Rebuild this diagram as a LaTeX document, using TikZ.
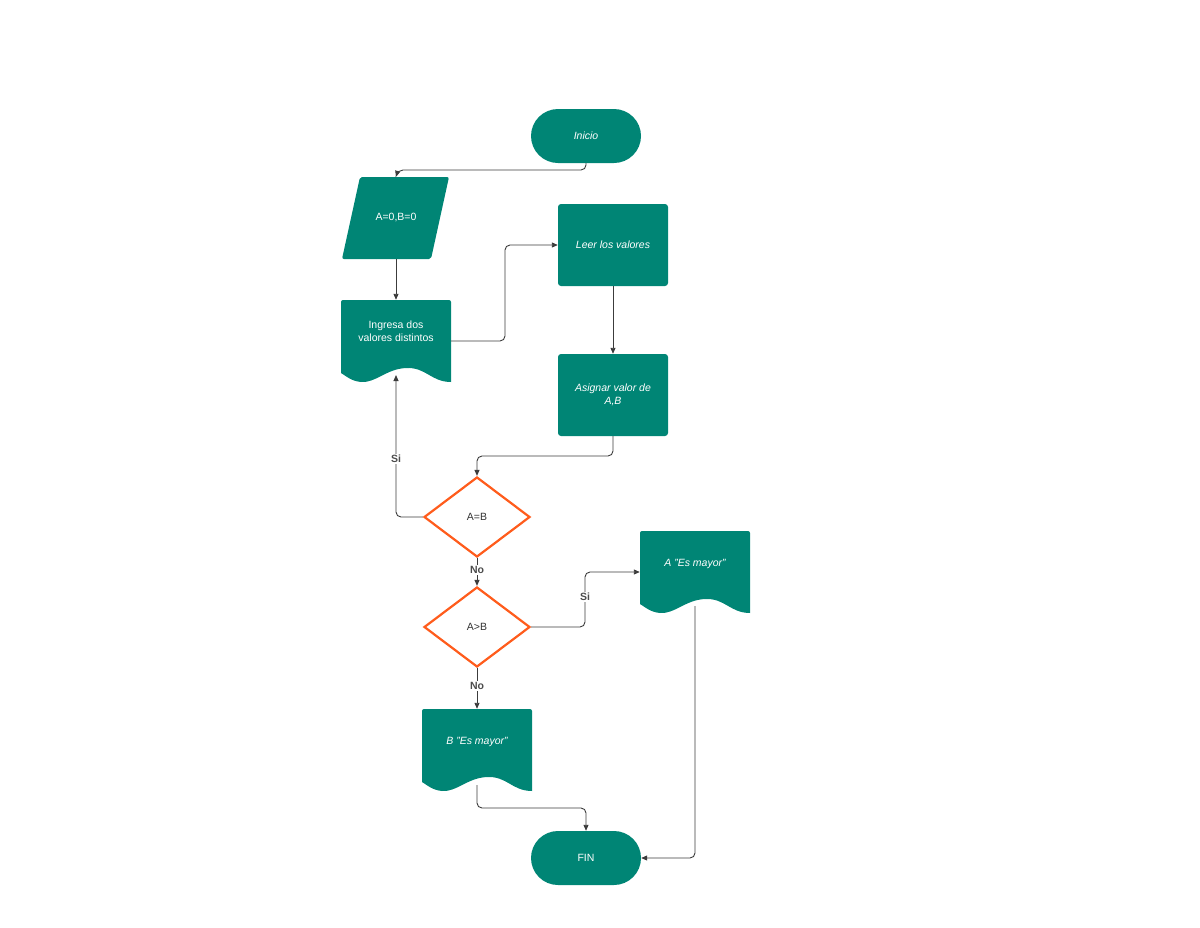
\documentclass[tikz,border=0pt]{standalone}
\usepackage{fontspec}
\setmainfont{Liberation Sans}
\usetikzlibrary{shapes.geometric,shapes.misc,arrows.meta}
\definecolor{teal1}{RGB}{0,133,117}
\definecolor{orng}{RGB}{255,92,28}
\definecolor{lin}{RGB}{60,60,60}
\tikzset{
 txt/.style={text=white,font=\fontsize{10.5}{13}\selectfont,align=center},
 term/.style={txt,fill=teal1,rounded rectangle,minimum width=110pt,minimum height=54pt,inner sep=0pt},
 proc/.style={txt,fill=teal1,rounded corners=3pt,minimum width=110pt,minimum height=82pt,inner sep=0pt},
 paranode/.style={txt,minimum width=107pt,minimum height=82pt,inner sep=0pt},
 dec/.style={diamond,draw=orng,line width=2.2pt,fill=white,minimum width=106pt,minimum height=80pt,inner sep=0pt,aspect=1.32,font=\fontsize{10.5}{13}\selectfont,text=black!80},
 docbox/.style={txt,minimum width=110pt,minimum height=82pt,inner sep=0pt},
 conn/.style={draw=lin,line width=0.9pt,rounded corners=5pt,-{Triangle[length=6pt,width=5pt]}},
 lab/.style={fill=white,inner sep=1pt,font=\fontsize{10.5}{13}\selectfont\bfseries,text=black!70}
}
\newcommand{\docfill}[2]{%
 \begin{scope}[shift={(#1,#2)}]
 \fill[teal1] (-55,32) [rounded corners=2pt] -- (-55,-41) -- (55,-41) [sharp corners] -- (55,41)
 .. controls (35,41) and (30,26) .. (10,27) .. controls (-10,28) and (-20,42) .. (-35,41)
 .. controls (-45,40) and (-50,35) .. (-55,32) -- cycle;
 \end{scope}}
\begin{document}
\begin{tikzpicture}[x=1pt,y=-1pt]
\useasboundingbox (0,0) rectangle (1200,927);
\fill[teal1,rounded corners=2pt] (342,259) -- (360,177) -- (449,177) -- (431,259) -- cycle;
\node[paranode] (ab) at (396,218) {A=0,B=0};
\node[term] (ini) at (586,136) {\itshape Inicio};
\docfill{396}{341}
\node[docbox] (ing) at (396,341) {};
\node[txt] at (396,331) {Ingresa dos\\valores distintos};
\node[proc] (leer) at (613,245) {\itshape Leer los valores};
\node[proc] (asig) at (613,395) {\itshape Asignar valor de\\\itshape A,B};
\node[dec] (d1) at (477,517) {A=B};
\node[dec] (d2) at (477,627) {A>B};
\docfill{695}{572}
\node[docbox] (amay) at (695,572) {};
\node[txt] at (695,564) {\itshape A "Es mayor"};
\docfill{477}{750}
\node[docbox] (bmay) at (477,750) {};
\node[txt] at (477,742) {\itshape B "Es mayor"};
\node[term] (fin) at (586,858) {FIN};
\draw[conn] (ini.south) |- (398,170) -- (ab.north);
\draw[conn] (ab.south) -- (ing.north -| ab.south);
\draw[conn] (ing.east) -- (505,341) |- (leer.west);
\draw[conn] (leer.south) -- (asig.north);
\draw[conn] (asig.south) |- (477,456) -- (d1.north);
\draw[conn] (d1.west) -| (396,375);
\node[lab] at (396,459) {Si};
\draw[conn] (d1.south) -- (d2.north);
\node[lab] at (477,570) {No};
\draw[conn] (d2.east) -- (585,627) |- (amay.west);
\node[lab] at (585,597) {Si};
\draw[conn] (d2.south) -- (bmay.north);
\node[lab] at (477,686) {No};
\draw[conn] (477,785) |- (586,808) -- (fin.north);
\draw[conn] (695,606) |- (fin.east);
\end{tikzpicture}
\end{document}
